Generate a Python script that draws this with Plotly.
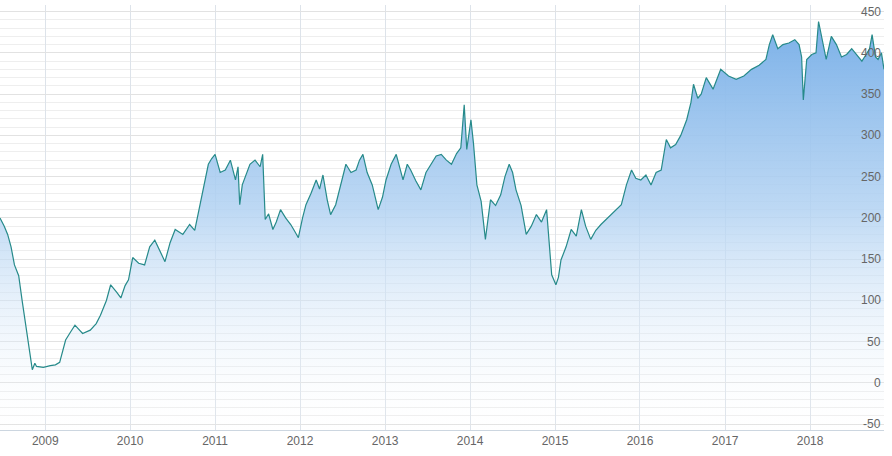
import pandas as pd
import plotly.graph_objects as go

# fractional year -> value
years = [2008.47, 2008.52, 2008.56, 2008.60, 2008.64, 2008.69, 2008.73, 2008.77, 2008.80, 2008.83,
         2008.85, 2008.88, 2008.90, 2008.98, 2009.06, 2009.12, 2009.17, 2009.24, 2009.30, 2009.35,
         2009.44, 2009.53, 2009.60, 2009.65, 2009.72, 2009.77, 2009.84, 2009.89, 2009.94, 2009.98,
         2010.03, 2010.10, 2010.17, 2010.23, 2010.29, 2010.35, 2010.41, 2010.47, 2010.53, 2010.62,
         2010.70, 2010.76, 2010.82, 2010.87, 2010.92, 2010.96, 2011.00, 2011.06, 2011.12, 2011.18,
         2011.24, 2011.27, 2011.29, 2011.32, 2011.35, 2011.41, 2011.47, 2011.53, 2011.56, 2011.59,
         2011.63, 2011.68, 2011.72, 2011.77, 2011.83, 2011.89, 2011.93, 2011.98, 2012.03, 2012.07,
         2012.13, 2012.19, 2012.23, 2012.27, 2012.32, 2012.36, 2012.42, 2012.48, 2012.54, 2012.60,
         2012.66, 2012.70, 2012.74, 2012.79, 2012.85, 2012.92, 2012.97, 2013.01, 2013.07, 2013.13,
         2013.17, 2013.21, 2013.26, 2013.30, 2013.36, 2013.42, 2013.48, 2013.54, 2013.60, 2013.66,
         2013.72, 2013.78, 2013.84, 2013.89, 2013.93, 2013.96, 2014.01, 2014.04, 2014.08, 2014.13,
         2014.18, 2014.24, 2014.30, 2014.36, 2014.41, 2014.46, 2014.50, 2014.54, 2014.60, 2014.66,
         2014.72, 2014.78, 2014.84, 2014.90, 2014.96, 2015.01, 2015.04, 2015.07, 2015.13, 2015.19,
         2015.25, 2015.31, 2015.36, 2015.42, 2015.48, 2015.54, 2015.60, 2015.66, 2015.72, 2015.78,
         2015.84, 2015.90, 2015.95, 2016.01, 2016.07, 2016.13, 2016.19, 2016.25, 2016.31, 2016.36,
         2016.42, 2016.48, 2016.55, 2016.60, 2016.63, 2016.68, 2016.72, 2016.78, 2016.86, 2016.95,
         2017.04, 2017.13, 2017.22, 2017.31, 2017.40, 2017.48, 2017.52, 2017.56, 2017.62, 2017.68,
         2017.75, 2017.82, 2017.87, 2017.90, 2017.92, 2017.96, 2018.02, 2018.07, 2018.10, 2018.13,
         2018.16, 2018.19, 2018.25, 2018.31, 2018.37, 2018.43, 2018.49, 2018.55, 2018.61, 2018.66,
         2018.70, 2018.73, 2018.77, 2018.80, 2018.84, 2018.87]
values = [200, 190, 180, 165, 143, 130, 100, 70, 46, 30,
          16, 24, 20, 19, 21, 22, 25, 52, 62, 70,
          60, 64, 72, 82, 100, 119, 110, 103, 118, 125,
          152, 145, 143, 165, 173, 160, 147, 170, 186, 180,
          192, 185, 216, 240, 265, 272, 277, 255, 258, 270,
          246, 262, 216, 240, 249, 265, 270, 262, 277, 198,
          205, 186, 195, 210, 200, 192, 185, 176, 200, 216,
          230, 246, 235, 252, 222, 204, 216, 240, 265, 255,
          258, 270, 277, 255, 240, 210, 225, 246, 265, 277,
          260, 246, 265, 258, 245, 234, 255, 265, 275, 277,
          270, 265, 278, 285, 337, 283, 319, 290, 240, 220,
          174, 222, 215, 228, 250, 265, 255, 234, 215, 180,
          190, 204, 195, 210, 131, 119, 128, 149, 165, 186,
          178, 210, 190, 174, 185, 192, 198, 204, 210, 216,
          240, 258, 248, 246, 252, 240, 255, 258, 295, 285,
          289, 300, 319, 340, 362, 345, 350, 370, 356, 380,
          372, 368, 372, 380, 385, 392, 410, 422, 405, 410,
          412, 416, 410, 395, 343, 392, 398, 400, 438, 422,
          410, 392, 420, 410, 395, 398, 405, 398, 390, 398,
          405, 422, 395, 392, 400, 380]
tick_years = list(range(2009, 2019))
ytick_vals = list(range(-50, 451, 50))


def to_date(y):
    yr = int(y)
    start = pd.Timestamp(year=yr, month=1, day=1)
    return start + pd.Timedelta(days=(y - yr) * 365.25)


dates = [to_date(y) for y in years]
base = -70

fig = go.Figure()
fig.add_trace(go.Scatter(x=dates, y=[base] * len(dates), mode="lines",
                         line=dict(width=0), hoverinfo="skip", showlegend=False))
fig.add_trace(go.Scatter(
    x=dates, y=values, mode="lines", fill="tonexty",
    line=dict(color="#268a8a", width=1.2),
    fillgradient=dict(type="vertical",
                      colorscale=[[0, "rgba(255,255,255,0)"], [0.55, "rgba(178,210,242,0.85)"],
                                  [1, "rgba(122,176,232,1)"]]),
    showlegend=False))

# y labels sit inside the plot, against the right edge
for v in ytick_vals:
    fig.add_annotation(x=1, xref="paper", xanchor="right", y=v, yref="y",
                       text=str(v), showarrow=False, xshift=-1,
                       font=dict(size=12, color="#666"))

fig.update_layout(
    width=892, height=456, margin=dict(l=0, r=8, t=5, b=26),
    plot_bgcolor="white", paper_bgcolor="white",
    font=dict(family="Arial, Liberation Sans", size=12, color="#666"),
    xaxis=dict(range=[to_date(2008.47), to_date(2018.87)],
               tickvals=[pd.Timestamp(year=y, month=1, day=1) for y in tick_years],
               ticktext=[str(y) for y in tick_years],
               showgrid=True, gridcolor="#dde3ea", showline=True, linecolor="#ccd6e0",
               ticks="", zeroline=False),
    yaxis=dict(range=[-57, 458], tickvals=ytick_vals, showticklabels=False,
               showgrid=True, gridcolor="#e2e2e2",
               minor=dict(dtick=10, showgrid=True, gridcolor="#eeeeee"),
               zeroline=False, ticks=""),
)

fig.write_html("out.html", config={"displayModeBar": False},
               post_script="document.body.style.margin='0';")
